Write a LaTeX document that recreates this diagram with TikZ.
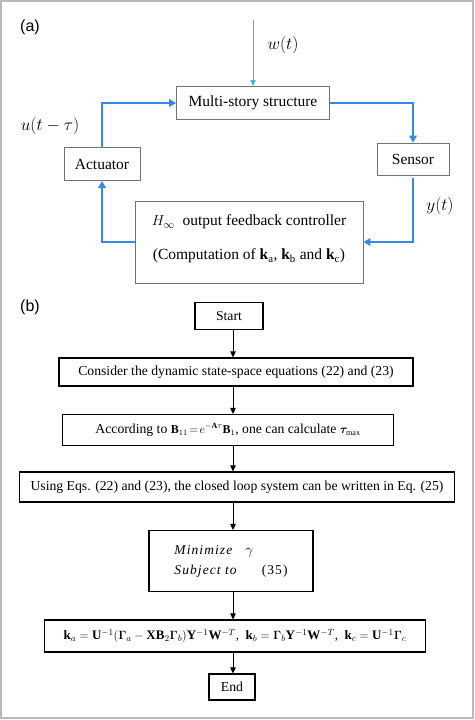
\documentclass[tikz,border=0pt]{standalone}
\usepackage{amsmath,amssymb,bm}
\usepackage{fontspec}
\setmainfont{Liberation Serif}
\setsansfont{Liberation Sans}
\usepackage{tikz}
\usetikzlibrary{arrows.meta,positioning,calc}

\definecolor{loopblue}{RGB}{52,138,228}
\definecolor{distblue}{RGB}{70,175,240}
\definecolor{framegray}{RGB}{185,185,185}

\begin{document}
\begin{tikzpicture}[
    x=1pt, y=-1pt,
    blk/.style={draw=black!55, line width=0.7pt, align=center, inner sep=2pt, font=\fontsize{15.5}{18}\selectfont},
    stepbox/.style={draw, line width=1.1pt, align=center, inner sep=2pt, font=\fontsize{13.7}{16}\selectfont},
    loop/.style={-{Triangle[length=7pt,width=7.5pt]}, loopblue, line width=2.8pt},
    dist/.style={-{Triangle[length=6pt,width=5pt]}, distblue, line width=1pt},
    arr/.style={-{Triangle[length=6pt,width=5.5pt]}, line width=0.8pt},
    sig/.style={font=\fontsize{17.5}{20}\selectfont},
    tag/.style={font=\sffamily\fontsize{16}{18}\selectfont}
  ]
    \useasboundingbox (0,0) rectangle (474,720);
    \draw[framegray, line width=2.5pt] (1,1) rectangle (473,718);

    % (a) control loop
    \node[tag] (pa) at (30,27) {(a)};
    \node[blk, minimum width=153pt, minimum height=33pt] (struct) at (253,103) {Multi-story structure};
    \node[blk, minimum width=76pt, minimum height=33pt] (act) at (102,164) {Actuator};
    \node[blk, minimum width=72pt, minimum height=32pt] (sens) at (413,159) {Sensor};
    \node[blk, minimum width=228pt, minimum height=82pt] (ctrl) at (249,242)
      {$H_{\infty}$\ \ output feedback controller\\[16pt]
       (Computation of $\mathbf{k}_\mathrm{a}$, $\mathbf{k}_\mathrm{b}$ and $\mathbf{k}_\mathrm{c}$)\\[-9pt]\mbox{}};
    \coordinate (wtop) at (253,20);
    \node[sig] (w) at (283,45) {$w(t)$};
    \node[sig] (u) at (50,126) {$u(t-\tau)$};
    \node[sig] (y) at (440,206) {$y(t)$};

    \draw[dist] (wtop) -- (struct.north);
    \draw[loop] (act.north) |- (struct.west);
    \draw[loop] (struct.east) -| (sens.north);
    \draw[loop, shorten <=3pt] (sens.south) |- (ctrl.east);
    \draw[loop] (ctrl.west) -| (act.south);

    % (b) design procedure
    \node[tag] (pb) at (30,307) {(b)};
    \coordinate (spine) at (233,0);
    \node[stepbox, minimum width=68pt, minimum height=27pt] (start) at (229,316) {Start};
    \node[stepbox, minimum width=354pt, minimum height=28pt] (cons) at (236,372)
      {Consider the dynamic state-space equations (22) and (23)};
    \node[stepbox, minimum width=331pt, minimum height=31pt] (delay) at (228,430)
      {According to {\fontsize{12}{14}\selectfont$\mathbf{B}_{11}\!=\!e^{-\mathbf{A}\tau}\mathbf{B}_1$}, one can calculate {\fontsize{12}{14}\selectfont$\bm{\tau}_{\max}$}};
    \node[stepbox, minimum width=435pt, minimum height=30pt] (closed) at (237,487)
      {Using Eqs. (22) and (23), the closed loop system can be written in Eq. (25)};
    \node[stepbox, minimum width=164pt, minimum height=61pt, align=left,
          font=\fontsize{13.5}{16}\selectfont\addfontfeature{LetterSpace=8}] (opt) at (231,561)
      {\textit{Minimize}\hspace{12pt}$\gamma$\\[4pt]
       \textit{Subject to}\hspace{24pt}(35)};
    \node[stepbox, minimum width=381pt, minimum height=32pt, font=\fontsize{13}{15}\selectfont] (gain) at (235,636)
      {$\mathbf{k}_a=\mathbf{U}^{-1}(\bm{\Gamma}_a-\mathbf{X}\mathbf{B}_2\bm{\Gamma}_b)\mathbf{Y}^{-1}\mathbf{W}^{-T}$,\ \
       $\mathbf{k}_b=\bm{\Gamma}_b\mathbf{Y}^{-1}\mathbf{W}^{-T}$,\ \
       $\mathbf{k}_c=\mathbf{U}^{-1}\bm{\Gamma}_c$};
    \node[stepbox, minimum width=46pt, minimum height=26pt] (stop) at (232,687) {End};

    \draw[arr] (start.south -| spine) -- (cons.north -| spine);
    \draw[arr] (cons.south -| spine) -- (delay.north -| spine);
    \draw[arr] (delay.south -| spine) -- (closed.north -| spine);
    \draw[arr] (closed.south -| spine) -- (opt.north -| spine);
    \draw[arr] (opt.south -| spine) -- (gain.north -| spine);
    \draw[arr] (gain.south -| spine) -- (stop.north -| spine);
  \end{tikzpicture}
\end{document}
